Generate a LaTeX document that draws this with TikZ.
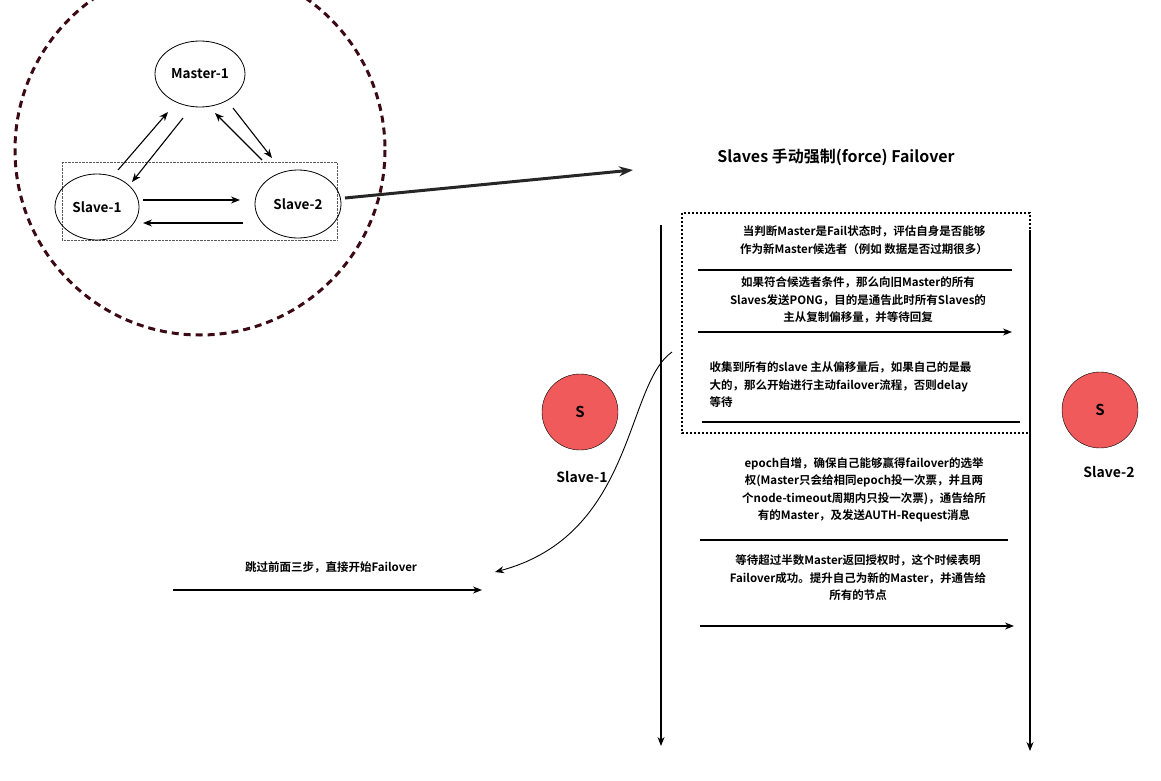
\documentclass[tikz,border=0pt]{standalone}
\usepackage{fontspec}
\setmainfont{Noto Sans CJK SC}[BoldFont={* Bold}]
\usetikzlibrary{arrows.meta,shapes.geometric}
\definecolor{dred}{HTML}{3C0A14}
\definecolor{sred}{HTML}{F05A5A}
\tikzset{
  nd/.style={draw,ellipse,thick,font=\bfseries\fontsize{13.5}{15}\selectfont,inner sep=0pt},
  ar/.style={-{Stealth[length=9pt,width=7pt]},line width=1.1pt},
  ln/.style={line width=1.1pt},
  txt/.style={font=\bfseries\fontsize{11.5}{17.5}\selectfont,align=center},
  scirc/.style={circle,draw,fill=sred,minimum size=76pt,font=\bfseries\fontsize{15}{16}\selectfont},
  lbl/.style={font=\bfseries\fontsize{14}{15}\selectfont}
}
\begin{document}
\begin{tikzpicture}[x=1pt,y=-1pt]
\useasboundingbox (0,0) rectangle (1161,781);
\begin{scope}
\clip (0,0) rectangle (1161,781);
\draw[dred,line width=3pt,dash pattern=on 7pt off 5pt] (200,150) circle (185);
\end{scope}
\draw[densely dotted,gray!70!black] (62,162) rectangle (337,240);
\node[nd,minimum width=90pt,minimum height=66pt] (m) at (200,74) {Master-1};
\node[nd,minimum width=84pt,minimum height=66pt] (s1) at (97,207) {Slave-1};
\node[nd,minimum width=86pt,minimum height=68pt] (s2) at (298,204) {Slave-2};
\coordinate (a1) at (118,170); \coordinate (a2) at (168,112);
\coordinate (b1) at (183,118); \coordinate (b2) at (132,182);
\coordinate (c1) at (233,108); \coordinate (c2) at (272,158);
\coordinate (d1) at (262,160); \coordinate (d2) at (215,113);
\coordinate (e1) at (143,200); \coordinate (e2) at (240,200);
\coordinate (f1) at (243,223); \coordinate (f2) at (143,223);
\draw[ar] (a1)--(a2); \draw[ar] (b1)--(b2); \draw[ar] (c1)--(c2); \draw[ar] (d1)--(d2);
\draw[ar] (e1)--(e2); \draw[ar] (f1)--(f2);
\coordinate (t1) at (345,198); \coordinate (t2) at (633,170);
\draw[-{Stealth[length=14pt,width=10pt]},line width=3pt,black!85] (t1)--(t2);
\node[font=\bfseries\fontsize{16}{18}\selectfont] (title) at (836,157) {Slaves 手动强制(force) Failover};
\draw[line width=2pt,dotted] (682,213) rectangle (1030,433);
\coordinate (l1a) at (661,225); \coordinate (l1b) at (661,746);
\coordinate (l2a) at (1030,230); \coordinate (l2b) at (1030,751);
\draw[ar] (l1a)--(l1b); \draw[ar] (l2a)--(l2b);
\node[scirc] (S1) at (580,412) {S};
\node[scirc] (S2) at (1100,410) {S};
\node[lbl] (S1l) at (582,477) {Slave-1};
\node[lbl] (S2l) at (1109,472) {Slave-2};
\node[txt] (x1) at (864,240) {当判断Master是Fail状态时，评估自身是否能够\\作为新Master候选者（例如 数据是否过期很多）};
\draw[ln] (698,270)--(1012,270);
\node[txt] (x2) at (858,300) {如果符合候选者条件，那么向旧Master的所有\\Slaves发送PONG，目的是通告此时所有Slaves的\\主从复制偏移量，并等待回复};
\draw[ar] (698,332)--(1012,332);
\node[txt,align=left,anchor=west] (x3) at (706,385) {收集到所有的slave 主从偏移量后，如果自己的是最\\大的，那么开始进行主动failover流程，否则delay\\等待};
\draw[ln] (702,422)--(1020,422);
\node[txt] (x4) at (864,490) {epoch自增，确保自己能够赢得failover的选举\\权(Master只会给相同epoch投一次票，并且两\\个node-timeout周期内只投一次票)，通告给所\\有的Master，及发送AUTH-Request消息};
\draw[ln] (700,540)--(1008,540);
\node[txt] (x5) at (858,578) {等待超过半数Master返回授权时，这个时候表明\\Failover成功。提升自己为新的Master，并通告给\\所有的节点};
\draw[ar] (700,626)--(1014,626);
\coordinate (cv1) at (672,352); \coordinate (cv2) at (495,572);
\draw[ar,line width=0.9pt] (cv1) .. controls (625,385) and (635,535) .. (cv2);
\node[txt] (sk) at (331,567) {跳过前面三步，直接开始Failover};
\draw[ar] (173,590)--(482,590);
\end{tikzpicture}
\end{document}
